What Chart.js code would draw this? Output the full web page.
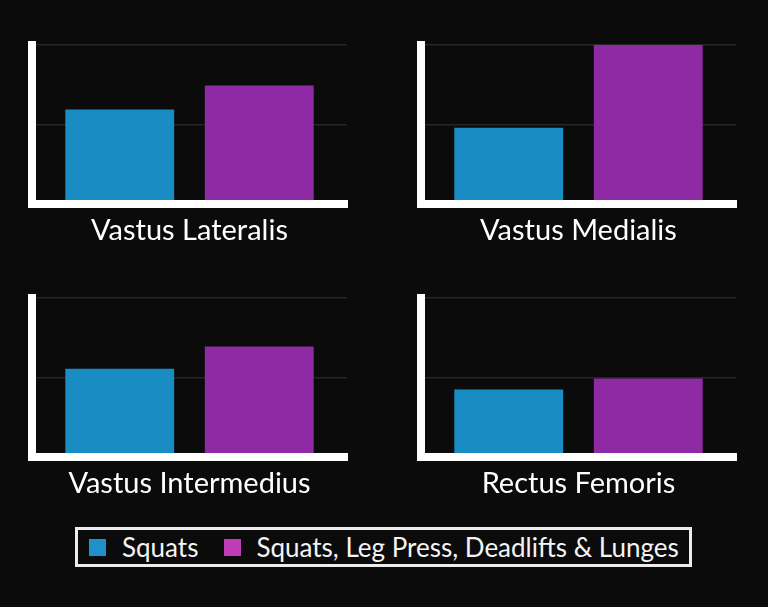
<!DOCTYPE html>
<html>
<head>
<meta charset="utf-8">
<script src="https://cdn.jsdelivr.net/npm/chart.js@4/dist/chart.umd.min.js"></script>
<style>
  html, body { margin: 0; padding: 0; background: #0b0b0b; }
  #stage { position: relative; width: 768px; height: 607px; background: #0b0b0b; overflow: hidden; }
  .panel { position: absolute; width: 384px; height: 257px; }
  #legend {
    position: absolute; left: 75px; top: 527px; width: 611px; height: 34px;
    border: 3px solid #ececec; font-family: Lato, "Noto Sans", sans-serif;
    font-size: 26px; color: #f4f4f4; display: flex; align-items: center;
  }
  #legend .sw { display: inline-block; width: 17px; height: 17px; }
  #legend span.txt { line-height: 1; }
</style>
</head>
<body>
<div id="stage">
  <div class="panel" style="left:0;top:0"><canvas id="c0"></canvas></div>
  <div class="panel" style="left:384px;top:0"><canvas id="c1"></canvas></div>
  <div class="panel" style="left:0;top:253px"><canvas id="c2"></canvas></div>
  <div class="panel" style="left:384px;top:253px"><canvas id="c3"></canvas></div>
  <div id="legend">
    <span class="sw" style="margin-left:11px;background:#1f90c9"></span>
    <span class="txt" style="margin-left:16px">Squats</span>
    <span class="sw" style="margin-left:26px;background:#c23bb6"></span>
    <span class="txt" style="margin-left:15px">Squats, Leg Press, Deadlifts &amp; Lunges</span>
  </div>
</div>
<script>
// one category per panel
const muscles = ['Vastus Lateralis', 'Vastus Medialis', 'Vastus Intermedius', 'Rectus Femoris'];
const seriesNames = ['Squats', 'Squats, Leg Press, Deadlifts & Lunges'];
const squats = [1.19, 0.96, 1.11, 0.85];
const combined = [1.49, 2.0, 1.39, 0.99];
const yTicks = [0, 1, 2];

const BLUE = '#1a8cc4';
const PURPLE = '#8e2aa3';

function makePanel(id, i, padLeft, padRight) {
    const ctx = document.getElementById(id).getContext('2d');
    new Chart(ctx, {
        type: 'bar',
        data: {
            labels: [muscles[i]],
            datasets: [
                { label: seriesNames[0], data: [squats[i]], backgroundColor: BLUE },
                { label: seriesNames[1], data: [combined[i]], backgroundColor: PURPLE }
            ]
        },
        options: {
            responsive: false,
            animation: false,
            devicePixelRatio: 1,
            categoryPercentage: 0.886,
            barPercentage: 0.78,
            layout: { padding: { left: padLeft, right: padRight, top: 45, bottom: 0 } },
            plugins: { legend: { display: false }, tooltip: { enabled: false } },
            scales: {
                x: {
                    grid: { display: false, drawTicks: false },
                    border: { color: '#ffffff', width: 8, z: 1 },
                    ticks: { color: '#ffffff', padding: 9, font: { family: 'Lato', size: 29 } }
                },
                y: {
                    min: yTicks[0], max: yTicks[yTicks.length - 1],
                    afterBuildTicks: (s) => { s.ticks = yTicks.map(v => ({ value: v })); },
                    grid: { color: '#262626', lineWidth: 1.5, drawTicks: false },
                    border: { color: '#ffffff', width: 8, z: 1 },
                    ticks: { display: false }
                }
            }
        }
    });
}

document.querySelectorAll('canvas').forEach(c => { c.width = 384; c.height = 257; });
makePanel('c0', 0, 32, 37);
makePanel('c1', 1, 37, 32);
makePanel('c2', 2, 32, 37);
makePanel('c3', 3, 37, 32);
</script>
</body>
</html>
